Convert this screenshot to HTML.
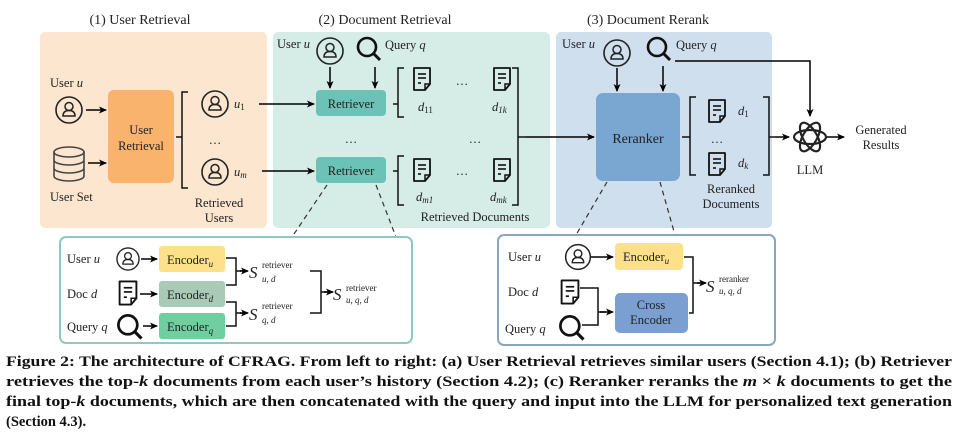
<!DOCTYPE html>
<html><head><meta charset="utf-8"><style>
body{margin:0;background:#fff;width:976px;height:437px;overflow:hidden}
svg{font-family:"Liberation Serif",serif}
</style></head><body>
<svg width="976" height="437" viewBox="0 0 976 437" xmlns="http://www.w3.org/2000/svg">
<defs>
<marker id="a" markerWidth="8" markerHeight="8" refX="7" refY="4" orient="auto" markerUnits="userSpaceOnUse"><path d="M0,0.5 L8,4 L0,7.5 L2,4z" fill="#000"/></marker>
<g id="user"><circle r="13" fill="none" stroke="#222" stroke-width="1.6"/><circle cy="-3.5" r="4" fill="none" stroke="#222" stroke-width="1.5"/><path d="M-6,6 Q-6,0.5 0,0.5 Q6,0.5 6,6 Z" fill="none" stroke="#222" stroke-width="1.5"/></g>
<g id="mag"><circle cx="-3" cy="-3" r="9" fill="none" stroke="#111" stroke-width="2.6"/><line x1="3.5" y1="3.5" x2="10" y2="10" stroke="#111" stroke-width="3"/></g>
<g id="doc"><path d="M-8,-11 H8 V5 L3,11 H-8 Z" fill="none" stroke="#111" stroke-width="1.8" stroke-linejoin="round"/><path d="M3,11 V5 H8" fill="none" stroke="#111" stroke-width="1.5"/><line x1="-4" y1="-5" x2="4" y2="-5" stroke="#111" stroke-width="1.6"/><line x1="-4" y1="-1" x2="4" y2="-1" stroke="#111" stroke-width="1.6"/><line x1="-4" y1="4" x2="-1" y2="4" stroke="#111" stroke-width="1.6"/></g>
</defs>
<g font-size="14" fill="#222">
<text x="140" y="24" text-anchor="middle">(1) User Retrieval</text>
<text x="385" y="24" text-anchor="middle">(2) Document Retrieval</text>
<text x="648" y="24" text-anchor="middle">(3) Document Rerank</text>
</g>
<rect x="40" y="32" width="227" height="196" rx="5" fill="#fde6cf"/>
<rect x="273" y="32" width="277" height="196" rx="5" fill="#d5ece7"/>
<rect x="556" y="32" width="216" height="196" rx="5" fill="#cfdfee"/>
<g font-size="12.5" fill="#222">
<!-- panel 1 -->
<text x="50" y="87">User <tspan font-style="italic">u</tspan></text>
<use href="#user" x="69" y="110"/>
<g fill="none" stroke="#444" stroke-width="1.6"><ellipse cx="69" cy="152" rx="15" ry="5"/><path d="M54,152 V176 A15,5 0 0 0 84,176 V152 M54,160 A15,5 0 0 0 84,160 M54,168 A15,5 0 0 0 84,168"/></g>
<text x="50" y="201">User Set</text>
<line x1="86" y1="110" x2="106" y2="110" stroke="#000" stroke-width="1.5" marker-end="url(#a)"/>
<line x1="88" y1="163" x2="106" y2="163" stroke="#000" stroke-width="1.5" marker-end="url(#a)"/>
<rect x="108" y="90" width="66" height="93" rx="6" fill="#f9b36c"/>
<text x="141" y="134" text-anchor="middle">User</text><text x="141" y="150" text-anchor="middle">Retrieval</text>
<path d="M176,137 H182 M188,92 H182 V188 H188" fill="none" stroke="#111" stroke-width="1.5"/>
<use href="#user" x="215" y="104"/><use href="#user" x="215" y="172"/>
<text x="215" y="144" text-anchor="middle">…</text>
<text x="234" y="108" font-style="italic">u<tspan font-size="9" dy="2" font-style="normal">1</tspan></text>
<text x="234" y="176" font-style="italic">u<tspan font-size="9" dy="2">m</tspan></text>
<text x="219" y="207" text-anchor="middle">Retrieved</text><text x="219" y="222" text-anchor="middle">Users</text>
<line x1="259" y1="104" x2="314" y2="104" stroke="#000" stroke-width="1.5" marker-end="url(#a)"/>
<line x1="262" y1="171" x2="314" y2="171" stroke="#000" stroke-width="1.5" marker-end="url(#a)"/>
<!-- panel 2 -->
<text x="277" y="48">User <tspan font-style="italic">u</tspan></text>
<use href="#user" x="330" y="51" transform=""/>
<use href="#mag" x="370" y="50"/>
<text x="385" y="49">Query <tspan font-style="italic">q</tspan></text>
<line x1="330" y1="67" x2="330" y2="88" stroke="#000" stroke-width="1.5" marker-end="url(#a)"/>
<line x1="375" y1="67" x2="375" y2="88" stroke="#000" stroke-width="1.5" marker-end="url(#a)"/>
<rect x="316" y="90" width="70" height="26" rx="4" fill="#6cc2b6"/>
<text x="351" y="108" text-anchor="middle">Retriever</text>
<rect x="316" y="157" width="70" height="26" rx="4" fill="#6cc2b6"/>
<text x="351" y="175" text-anchor="middle">Retriever</text>
<text x="351" y="143" text-anchor="middle">…</text>
<text x="475" y="143" text-anchor="middle">…</text>
<path d="M393,104 H398 M404,68 H398 V117 H404 M393,171 H398 M404,156 H398 V205 H404" fill="none" stroke="#111" stroke-width="1.5"/>
<use href="#doc" x="422" y="79"/><use href="#doc" x="502" y="79"/>
<use href="#doc" x="422" y="170"/><use href="#doc" x="502" y="170"/>
<text x="462" y="85" text-anchor="middle">…</text><text x="462" y="175" text-anchor="middle">…</text>
<text x="418" y="111" font-style="italic">d<tspan font-size="9" dy="2" font-style="normal">11</tspan></text>
<text x="492" y="111" font-style="italic">d<tspan font-size="9" dy="2">1k</tspan></text>
<text x="416" y="201" font-style="italic">d<tspan font-size="9" dy="2">m1</tspan></text>
<text x="490" y="201" font-style="italic">d<tspan font-size="9" dy="2">mk</tspan></text>
<text x="475" y="221" text-anchor="middle">Retrieved Documents</text>
<path d="M512,68 H518 V205 H512 M518,137 H526" fill="none" stroke="#111" stroke-width="1.5"/>
<line x1="526" y1="137" x2="594" y2="137" stroke="#000" stroke-width="1.5" marker-end="url(#a)"/>
<!-- panel 3 -->
<text x="562" y="48">User <tspan font-style="italic">u</tspan></text>
<use href="#user" x="617" y="53"/>
<use href="#mag" x="660" y="50"/>
<text x="676" y="49">Query <tspan font-style="italic">q</tspan></text>
<line x1="617" y1="68" x2="617" y2="91" stroke="#000" stroke-width="1.5" marker-end="url(#a)"/>
<line x1="663" y1="66" x2="663" y2="91" stroke="#000" stroke-width="1.5" marker-end="url(#a)"/>
<path d="M675,61 H810 V116" fill="none" stroke="#000" stroke-width="1.5" marker-end="url(#a)"/>
<rect x="596" y="93" width="84" height="88" rx="7" fill="#7aa6d2"/>
<text x="638" y="143" text-anchor="middle" font-size="14">Reranker</text>
<path d="M682,137 H690 M696,97 H690 V175 H696 M763,97 H769 V175 H763 M769,137 H775" fill="none" stroke="#111" stroke-width="1.5"/>
<line x1="775" y1="137" x2="789" y2="137" stroke="#000" stroke-width="1.5" marker-end="url(#a)"/>
<use href="#doc" x="717" y="111"/><use href="#doc" x="717" y="164"/>
<text x="717" y="143" text-anchor="middle">…</text>
<text x="738" y="115" font-style="italic">d<tspan font-size="9" dy="2" font-style="normal">1</tspan></text>
<text x="738" y="167" font-style="italic">d<tspan font-size="9" dy="2">k</tspan></text>
<text x="731" y="193" text-anchor="middle">Reranked</text><text x="731" y="208" text-anchor="middle">Documents</text>
<g transform="translate(810,137)" fill="none" stroke="#222" stroke-width="2.2">
<ellipse rx="16" ry="7"/><ellipse rx="16" ry="7" transform="rotate(60)"/><ellipse rx="16" ry="7" transform="rotate(120)"/>
</g>
<line x1="827" y1="137" x2="844" y2="137" stroke="#000" stroke-width="1.5" marker-end="url(#a)"/>
<text x="810" y="174" text-anchor="middle">LLM</text>
<text x="881" y="134" text-anchor="middle">Generated</text><text x="881" y="149" text-anchor="middle">Results</text>
</g>
<!-- dashed -->
<g stroke="#333" stroke-width="1.2" stroke-dasharray="5,4">
<line x1="327" y1="185" x2="292" y2="237"/><line x1="376" y1="185" x2="396" y2="237"/>
<line x1="607" y1="182" x2="576" y2="235"/><line x1="660" y1="182" x2="675" y2="235"/>
</g>
<rect x="60" y="237" width="352" height="106" rx="6" fill="#fff" stroke="#8ec9bf" stroke-width="2"/>
<rect x="498" y="235" width="277" height="110" rx="6" fill="#fff" stroke="#8aa6bd" stroke-width="2"/>
<g font-size="12.5" fill="#222">
<text x="67" y="263">User <tspan font-style="italic">u</tspan></text>
<text x="67" y="298">Doc <tspan font-style="italic">d</tspan></text>
<text x="67" y="331">Query <tspan font-style="italic">q</tspan></text>
<g transform="translate(128,259) scale(0.85)"><use href="#user"/></g>
<g transform="translate(128,293) scale(1.05)"><use href="#doc"/></g>
<g transform="translate(131,328) scale(1.05)"><use href="#mag"/></g>
<line x1="141" y1="259" x2="157" y2="259" stroke="#000" stroke-width="1.5" marker-end="url(#a)"/>
<line x1="140" y1="294" x2="157" y2="294" stroke="#000" stroke-width="1.5" marker-end="url(#a)"/>
<line x1="143" y1="326" x2="157" y2="326" stroke="#000" stroke-width="1.5" marker-end="url(#a)"/>
<rect x="159" y="246" width="66" height="26" rx="3" fill="#fde08a"/>
<rect x="159" y="281" width="66" height="26" rx="3" fill="#a8cab6"/>
<rect x="159" y="313" width="66" height="26" rx="3" fill="#6fcf9e"/>
<text x="167" y="264">Encoder<tspan font-size="9" dy="3" font-style="italic">u</tspan></text>
<text x="167" y="299">Encoder<tspan font-size="9" dy="3" font-style="italic">d</tspan></text>
<text x="167" y="331">Encoder<tspan font-size="9" dy="3" font-style="italic">q</tspan></text>
<path d="M226,258 H236 V285 H226 M236,271 H244 M226,302 H236 V326 H226 M236,313 H244" fill="none" stroke="#111" stroke-width="1.5"/>
<line x1="240" y1="271" x2="248" y2="271" stroke="#000" stroke-width="1.5" marker-end="url(#a)"/>
<line x1="240" y1="313" x2="248" y2="313" stroke="#000" stroke-width="1.5" marker-end="url(#a)"/>
<text x="249" y="278" font-size="17" font-style="italic">S</text><text x="262" y="268" font-size="9">retriever</text><text x="262" y="282" font-size="9" font-style="italic">u, d</text>
<text x="249" y="320" font-size="17" font-style="italic">S</text><text x="262" y="309" font-size="9">retriever</text><text x="262" y="323" font-size="9" font-style="italic">q, d</text>
<path d="M310,271 H321 V313 H310 M321,292 H328" fill="none" stroke="#111" stroke-width="1.5"/>
<line x1="324" y1="292" x2="333" y2="292" stroke="#000" stroke-width="1.5" marker-end="url(#a)"/>
<text x="333" y="300" font-size="17" font-style="italic">S</text><text x="346" y="291" font-size="9">retriever</text><text x="346" y="303" font-size="9" font-style="italic">u, q, d</text>
<!-- right box -->
<text x="508" y="261">User <tspan font-style="italic">u</tspan></text>
<text x="508" y="296">Doc <tspan font-style="italic">d</tspan></text>
<text x="505" y="333">Query <tspan font-style="italic">q</tspan></text>
<g transform="translate(578,257) scale(0.95)"><use href="#user"/></g>
<g transform="translate(570,292) scale(1.05)"><use href="#doc"/></g>
<g transform="translate(573,329) scale(1.05)"><use href="#mag"/></g>
<line x1="591" y1="257" x2="613" y2="257" stroke="#000" stroke-width="1.5" marker-end="url(#a)"/>
<rect x="615" y="243" width="68" height="27" rx="4" fill="#fde08a"/>
<text x="623" y="261">Encoder<tspan font-size="9" dy="3" font-style="italic">u</tspan></text>
<rect x="615" y="293" width="73" height="40" rx="5" fill="#7b9fd0"/>
<text x="651" y="309" text-anchor="middle">Cross</text><text x="651" y="324" text-anchor="middle">Encoder</text>
<path d="M580,288 H598 V325 H582 M598,312 H606" fill="none" stroke="#111" stroke-width="1.5"/>
<line x1="600" y1="312" x2="613" y2="312" stroke="#000" stroke-width="1.5" marker-end="url(#a)"/>
<path d="M684,257 H693 V313 H689 M693,283 H700" fill="none" stroke="#111" stroke-width="1.5"/>
<line x1="697" y1="283" x2="706" y2="283" stroke="#000" stroke-width="1.5" marker-end="url(#a)"/>
<text x="706" y="292" font-size="17" font-style="italic">S</text><text x="719" y="282" font-size="9">reranker</text><text x="719" y="294" font-size="9" font-style="italic">u, q, d</text>
</g>
<g font-size="14.5" font-weight="bold" fill="#111">
<text x="6" y="366" textLength="946" lengthAdjust="spacingAndGlyphs">Figure 2: The architecture of CFRAG. From left to right: (a) User Retrieval retrieves similar users (Section 4.1); (b) Retriever</text>
<text x="6" y="386" textLength="946" lengthAdjust="spacingAndGlyphs">retrieves the top-<tspan font-style="italic">k</tspan> documents from each user’s history (Section 4.2); (c) Reranker reranks the <tspan font-style="italic">m</tspan> × <tspan font-style="italic">k</tspan> documents to get the</text>
<text x="6" y="406" textLength="946" lengthAdjust="spacingAndGlyphs">final top-<tspan font-style="italic">k</tspan> documents, which are then concatenated with the query and input into the LLM for personalized text generation</text>
<text x="6" y="426">(Section 4.3).</text>
</g>
</svg>
</body></html>
